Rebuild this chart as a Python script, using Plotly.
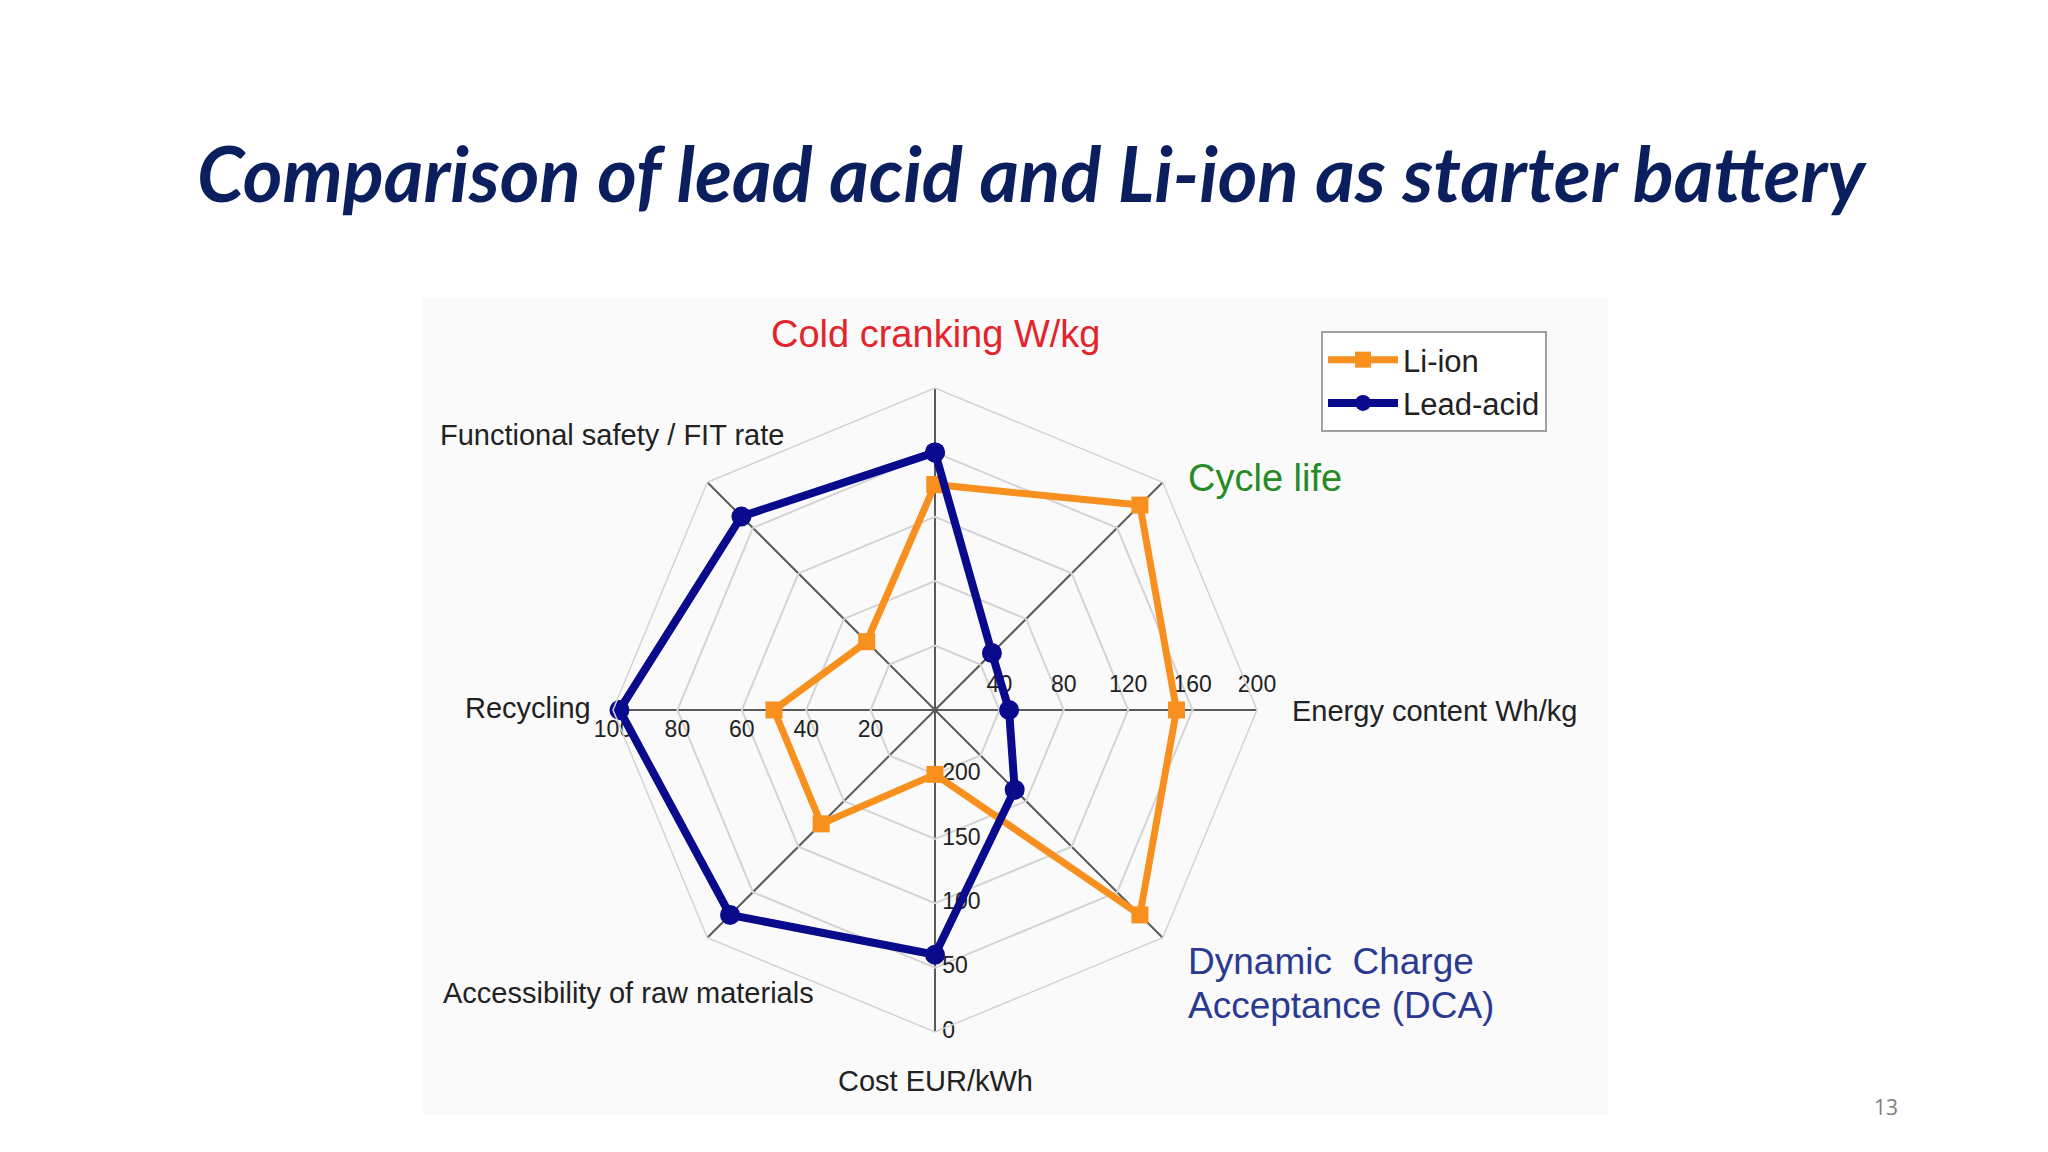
import plotly.graph_objects as go

# ---------------- data ----------------
categories = ["Cold cranking W/kg", "Cycle life", "Energy content Wh/kg",
              "Dynamic Charge Acceptance (DCA)", "Cost EUR/kWh",
              "Accessibility of raw materials", "Recycling",
              "Functional safety / FIT rate"]
# value at the centre and at the rim of each spoke
axis_center = [0, 0, 0, 0, 250, 0, 0, 0]
axis_rim = [100, 100, 200, 100, 0, 100, 100, 100]

li_ion = [70, 90, 150, 90, 200, 50, 50, 30]
lead_acid = [80, 25, 46, 35, 60, 90, 98, 85]

energy_ticks = [40, 80, 120, 160, 200]
recycling_ticks = [20, 40, 60, 80, 100]
cost_ticks = [200, 150, 100, 50, 0]


def norm(values, idxs):
    return [(v - axis_center[i]) / (axis_rim[i] - axis_center[i]) for v, i in zip(values, idxs)]


all_idx = list(range(len(categories)))

W, H = 2048, 1152
cx, cy, R = 927, 702, 322

fig = go.Figure()

# tick labels on three spokes (drawn beneath the series)
tick_font = dict(family="Liberation Sans, Arial", size=23, color="#222222")
for ticks, cat_i, pos, gap in [(energy_ticks, 2, "top center", 18),
                               (recycling_ticks, 6, "bottom center", 14),
                               (cost_ticks, 4, "middle right", 10)]:
    fig.add_trace(go.Scatterpolar(
        r=norm(ticks, [cat_i] * len(ticks)),
        theta=[categories[cat_i]] * len(ticks),
        mode="markers+text", text=[str(t) for t in ticks], textposition=pos,
        marker=dict(size=gap, color="rgba(0,0,0,0)"),
        textfont=tick_font, showlegend=False, hoverinfo="skip"))

li_r = norm(li_ion, all_idx)
la_r = norm(lead_acid, all_idx)

fig.add_trace(go.Scatterpolar(
    r=li_r + li_r[:1], theta=categories + categories[:1],
    mode="lines+markers", name="Li-ion",
    line=dict(color="#F7901E", width=7),
    marker=dict(symbol="square", size=17, color="#F7901E")))
fig.add_trace(go.Scatterpolar(
    r=la_r + la_r[:1], theta=categories + categories[:1],
    mode="lines+markers", name="Lead-acid",
    line=dict(color="#0A0A8C", width=8),
    marker=dict(symbol="circle", size=20, color="#0A0A8C")))

fig.update_layout(
    width=W, height=H,
    margin=dict(l=0, r=0, t=0, b=0),
    paper_bgcolor="white",
    polar=dict(
        domain=dict(x=[(cx - R) / W, (cx + R) / W],
                    y=[(H - cy - R) / H, (H - cy + R) / H]),
        gridshape="linear",
        bgcolor="rgba(0,0,0,0)",
        angularaxis=dict(
            categoryorder="array", categoryarray=categories,
            rotation=90, direction="clockwise",
            showticklabels=False, ticks="",
            showgrid=True, gridcolor="#5a5a5a", gridwidth=1.5,
            showline=True, linecolor="#d4d4d4", linewidth=1.5),
        radialaxis=dict(
            range=[0, 1], tickvals=[0.2, 0.4, 0.6, 0.8, 1.0],
            showticklabels=False, ticks="", showline=False,
            showgrid=True, gridcolor="#d4d4d4", gridwidth=1.5),
    ),
    legend=dict(
        x=1313 / W, y=1 - 323 / H, xanchor="left", yanchor="top",
        bgcolor="white", bordercolor="#a0a0a0", borderwidth=2,
        font=dict(family="Liberation Sans, Arial", size=31, color="#222222"),
        itemwidth=70, tracegroupgap=0),
    shapes=[dict(type="rect", xref="paper", yref="paper", layer="below",
                 x0=415 / W, x1=1600 / W, y0=1 - 1107 / H, y1=1 - 290 / H,
                 fillcolor="#fafafa", line=dict(width=0))],
)

label_font = "Liberation Sans, Arial"
annos = [
    ("Comparison of lead acid and Li-ion as starter battery", 1024, 165, "center",
     dict(family="Lato", size=76, color="#0B1F5E", weight="bold", style="italic")),
    ("Cold cranking W/kg", 927, 326, "center", dict(family=label_font, size=38, color="#E3242B")),
    ("Cycle life", 1178, 470, "left", dict(family=label_font, size=38, color="#268A26")),
    ("Energy content Wh/kg", 1282, 703, "left", dict(family=label_font, size=29, color="#222222")),
    ("Dynamic  Charge", 1178, 953, "left", dict(family=label_font, size=37, color="#2B3A91")),
    ("Acceptance (DCA)", 1178, 997, "left", dict(family=label_font, size=37, color="#2B3A91")),
    ("Cost EUR/kWh", 927, 1073, "center", dict(family=label_font, size=29, color="#222222")),
    ("Accessibility of raw materials", 808, 985, "right", dict(family=label_font, size=29, color="#222222")),
    ("Recycling", 585, 700, "right", dict(family=label_font, size=29, color="#222222")),
    ("Functional safety / FIT rate", 430, 427, "left", dict(family=label_font, size=29, color="#222222")),
    ("13", 1878, 1099, "center", dict(family="Open Sans", size=21, color="#808080")),
]
for text, x, y, anchor, font in annos:
    fig.add_annotation(text=text, x=x / W, y=1 - y / H, xref="paper", yref="paper",
                       xanchor=anchor, yanchor="middle", showarrow=False, font=font)

fig.write_html("out.html")
